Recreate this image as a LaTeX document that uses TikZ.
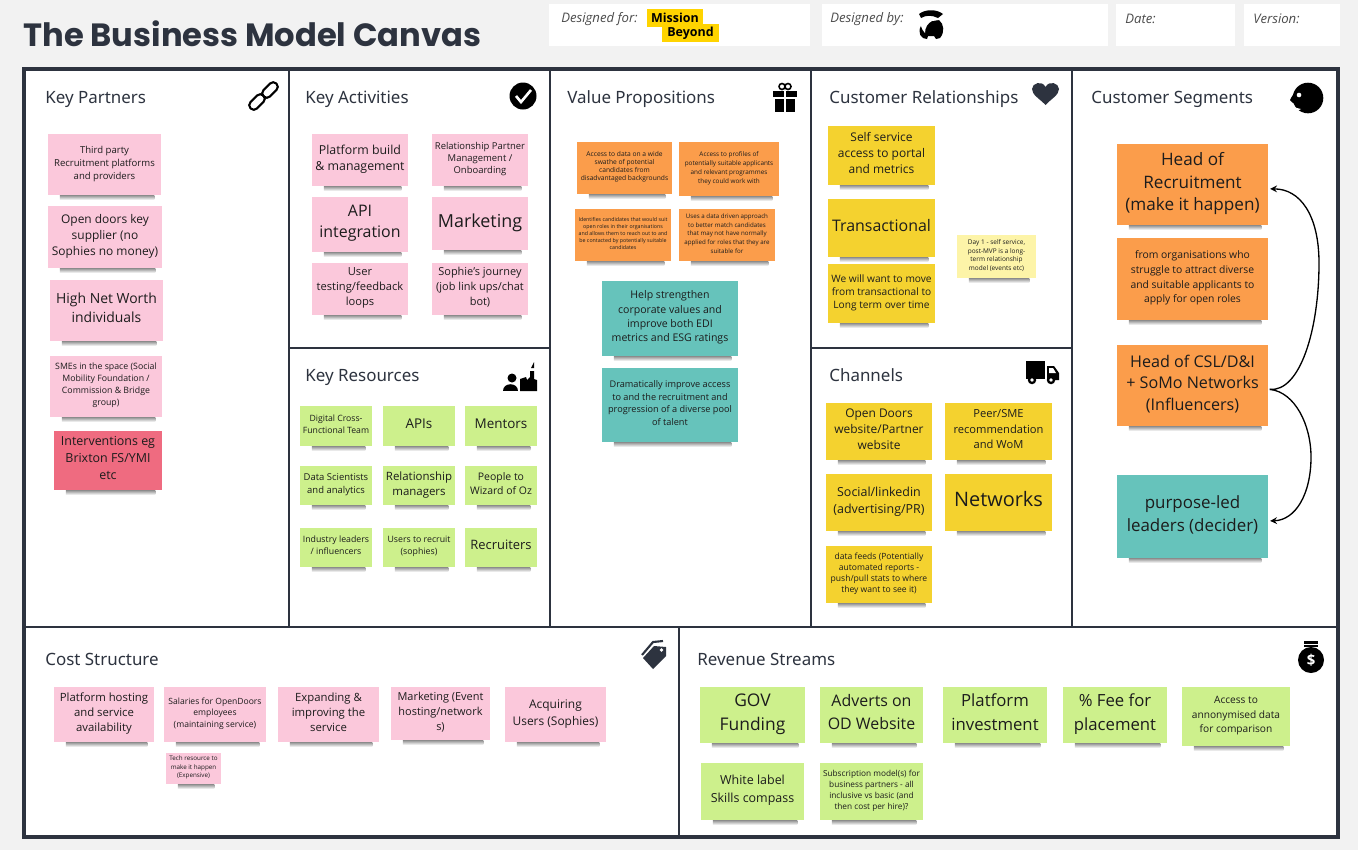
\documentclass[tikz,border=0pt]{standalone}
\usepackage{fontspec}
\setmainfont{Open Sans}
\newfontfamily\headfont{Noto Sans}
\newfontfamily\titlefont{Poppins}
\definecolor{ink}{HTML}{1C1C1C}
\definecolor{frame}{HTML}{2D333F}
\definecolor{page}{HTML}{F2F2F2}
\definecolor{pinknote}{HTML}{FBC8DB}
\definecolor{rednote}{HTML}{EF6B80}
\definecolor{greennote}{HTML}{CDF08C}
\definecolor{orangenote}{HTML}{FB9D4B}
\definecolor{tealnote}{HTML}{66C3BB}
\definecolor{yellownote}{HTML}{F4D22F}
\definecolor{palenote}{HTML}{FDF4A8}
\definecolor{brand}{HTML}{FFD400}
\newcommand{\pxfont}[2]{\pgfmathsetmacro\pxa{#1*0.5669}\pgfmathsetmacro\pxb{#2*0.5669}\fontsize{\pxa pt}{\pxb pt}\selectfont}
\tikzset{
	px/.style 2 args={font=\pxfont{#1}{#2}},
	wh/.style 2 args={minimum width=#1*0.02cm, minimum height=#2*0.02cm},
	note/.style={rectangle, inner sep=0pt, align=center, text=ink,
		execute at end node={\rule[\dimexpr-.25em-1pt\relax]{0pt}{0pt}},
		append after command={\pgfextra{\shade [top color=black!42, bottom color=white]
			([xshift=7pt]\tikzlastnode.south west) rectangle ([xshift=-4pt,yshift=-2.6pt]\tikzlastnode.south east);}}},
	pink/.style={note, fill=pinknote},
	red/.style={note, fill=rednote},
	green/.style={note, fill=greennote},
	orange/.style={note, fill=orangenote},
	teal/.style={note, fill=tealnote},
	yellow/.style={note, fill=yellownote},
	pale/.style={note, fill=palenote},
	heading/.style={anchor=base west, inner sep=0pt, text=frame, font={\headfont\pxfont{17}{20}}},
	meta/.style={anchor=west, inner sep=0pt, text=black!70, font={\itshape\pxfont{13.2}{15}}},
	brandbox/.style={inner sep=0pt, fill=brand, text=black, font={\bfseries\pxfont{12.5}{15}}},
	metabox/.style={fill=white, draw=none},
	divider/.style={draw=frame, line width=1.2pt},
	flow/.style={-stealth, black, line width=0.75pt},
}
\begin{document}
\begin{tikzpicture}[x=0.02cm, y=-0.02cm]
	\useasboundingbox [fill=page] (0,0) rectangle (1358,850);

	\node at (23,34) [anchor=west, inner sep=0pt, text=frame, font={\titlefont\bfseries\pxfont{32.3}{36}}] (title) {The Business Model Canvas};

	\fill [metabox] (549,4) rectangle (810,46);
	\fill [metabox] (822,4) rectangle (1108,46);
	\fill [metabox] (1116,4) rectangle (1235,46);
	\fill [metabox] (1244,4) rectangle (1340,46);
	\node at (561,19) [meta] (mfor) {Designed for:};
	\node at (830,19) [meta] (mby) {Designed by:};
	\node at (1125,19) [meta] (mdate) {Date:};
	\node at (1253,19) [meta] (mver) {Version:};
	\node at (675,18) [brandbox, wh={56}{18}] (mission) {Mission};
	\node at (690.5,33) [brandbox, wh={57}{18}] (beyond) {Beyond};

	\fill [black] (925,21) .. controls (918,27) and (918,35) .. (923,38) -- (927,39) -- (928,36) -- (934,36) -- (936,39) -- (940,38) .. controls (945,32) and (944,24) .. (939,20) -- cycle;
	\fill [black] (919,14) .. controls (925,9) and (937,9) .. (943,14) -- (938,18) .. controls (932,15) and (926,15) .. (921,18) -- cycle;
	\fill [white] (921,19) .. controls (927,16) and (934,16) .. (939,20) -- (932,21) .. controls (928,23) and (925,27) .. (925,33) .. controls (921,29) and (920,24) .. (921,19) -- cycle;

	\draw [fill=white, draw=frame, line width=2.3pt] (24,69) rectangle (1338,837);
	\draw [divider] (289,69) -- (289,627);
	\draw [divider] (550,69) -- (550,627);
	\draw [divider] (811,69) -- (811,627);
	\draw [divider] (1072,69) -- (1072,627);
	\draw [divider] (24,627) -- (1338,627);
	\draw [divider] (679,627) -- (679,837);
	\draw [divider] (289,348) -- (550,348);
	\draw [divider] (811,348) -- (1072,348);

	\node at (45,103) [heading] (hpartners) {Key Partners};
	\node at (305,103) [heading] (hactivities) {Key Activities};
	\node at (305,381) [heading] (hresources) {Key Resources};
	\node at (567,103) [heading] (hvalue) {Value Propositions};
	\node at (829,103) [heading] (hrelations) {Customer Relationships};
	\node at (829,381) [heading] (hchannels) {Channels};
	\node at (1091,103) [heading] (hsegments) {Customer Segments};
	\node at (45,665) [heading] (hcost) {Cost Structure};
	\node at (697,665) [heading] (hrevenue) {Revenue Streams};

	% Key Partners
	\node at (104.5,164.5) [pink, wh={113}{61}, px={9.6}{13}] (kp1) {Third party\\Recruitment platforms\\and providers};
	\node at (105,237) [pink, wh={114}{62}, px={12}{16}] (kp2) {Open doors key\\supplier (no\\Sophies no money)};
	\node at (106.5,310.5) [pink, wh={113}{61}, px={14}{19.5}] (kp3) {High Net Worth\\individuals};
	\node at (106,386.5) [pink, wh={112}{61}, px={8.8}{12}] (kp4) {SMEs in the space (Social\\Mobility Foundation /\\Commission \& Bridge\\group)};
	\node at (108,460.5) [red, wh={108}{59}, px={12.5}{17}] (kp5) {Interventions eg\\Brixton FS/YMI\\etc};

	% Key Activities
	\node at (360,160) [pink, wh={96}{52}, px={12.4}{16}] (ka1) {Platform build\\\& management};
	\node at (480,160) [pink, wh={96}{52}, px={9.5}{12.5}] (ka2) {Relationship Partner\\Management /\\Onboarding};
	\node at (360,224.5) [pink, wh={96}{55}, px={16}{21}] (ka3) {API\\integration};
	\node at (480,223.5) [pink, wh={96}{53}, px={18}{22}] (ka4) {Marketing};
	\node at (360,289) [pink, wh={96}{52}, px={11.2}{15}] (ka5) {User\\testing/feedback\\loops};
	\node at (480,289) [pink, wh={96}{52}, px={11}{15}] (ka6) {Sophie's journey\\(job link ups/chat\\bot)};

	% Key Resources
	\node at (336,426) [green, wh={72}{40}, px={8.7}{11.5}] (kr1) {Digital Cross-\\Functional Team};
	\node at (419,426) [green, wh={72}{40}, px={13.5}{16}] (kr2) {APIs};
	\node at (501,426) [green, wh={72}{40}, px={13.5}{16}] (kr3) {Mentors};
	\node at (336,485.5) [green, wh={72}{39}, px={9.5}{12.5}] (kr4) {Data Scientists\\and analytics};
	\node at (419,485.5) [green, wh={72}{39}, px={11.5}{15}] (kr5) {Relationship\\managers};
	\node at (501,485.5) [green, wh={72}{39}, px={10.5}{14}] (kr6) {People to\\Wizard of Oz};
	\node at (336,547.5) [green, wh={72}{39}, px={8.8}{12}] (kr7) {Industry leaders\\/ influencers};
	\node at (419,547.5) [green, wh={72}{39}, px={8.8}{12.5}] (kr8) {Users to recruit\\(sophies)};
	\node at (501,547.5) [green, wh={72}{39}, px={13}{16}] (kr9) {Recruiters};

	% Value Propositions
	\node at (624.5,168) [orange, wh={95}{52}, px={6.7}{8}] (vp1) {Access to data on a wide\\swathe of potential\\candidates from\\disadvantaged backgrounds};
	\node at (729,169) [orange, wh={100}{54}, px={6.4}{9}] (vp2) {Access to profiles of\\potentially suitable applicants\\and relevant programmes\\they could work with};
	\node at (623,235) [orange, wh={96}{52}, px={5.3}{7}] (vp3) {Identifies candidates that would suit\\open roles in their organisations\\and allows them to reach out to and\\be contacted by potentially suitable\\candidates};
	\node at (727,235) [orange, wh={96}{52}, px={6.2}{8.7}] (vp4) {Uses a data driven approach\\to better match candidates\\that may not have normally\\applied for roles that they are\\suitable for};
	\node at (670,318.5) [teal, wh={136}{75}, px={10.6}{14.5}] (vp5) {Help strengthen\\corporate values and\\improve both EDI\\metrics and ESG ratings};
	\node at (670,405) [teal, wh={136}{74}, px={9.2}{12.5}] (vp6) {Dramatically improve access\\to and the recruitment and\\progression of a diverse pool\\of talent};

	% Customer Relationships
	\node at (881.5,155.5) [yellow, wh={107}{59}, px={12}{16}] (cr1) {Self service\\access to portal\\and metrics};
	\node at (881.5,228) [yellow, wh={107}{58}, px={16}{20}] (cr2) {Transactional};
	\node at (881.5,293.5) [yellow, wh={107}{59}, px={10.2}{13}] (cr3) {We will want to move\\from transactional to\\Long term over time};
	\node at (996.5,256.5) [pale, wh={79}{43}, px={6.5}{8.6}] (cr4) {Day 1 - self service,\\post-MVP is a long-\\term relationship\\model (events etc)};

	% Channels
	\node at (879,431.5) [yellow, wh={106}{57}, px={12}{16}] (ch1) {Open Doors\\website/Partner\\website};
	\node at (998.5,431.5) [yellow, wh={107}{57}, px={11.2}{15.5}] (ch2) {Peer/SME\\recommendation\\and WoM};
	\node at (879,502.5) [yellow, wh={106}{57}, px={12.5}{17}] (ch3) {Social/linkedin\\(advertising/PR)};
	\node at (998.5,502.5) [yellow, wh={107}{57}, px={20}{24}] (ch4) {Networks};
	\node at (879,574.5) [yellow, wh={106}{57}, px={8.6}{11}] (ch5) {data feeds (Potentially\\automated reports -\\push/pull stats to where\\they want to see it)};

	% Customer Segments
	\node at (1192.5,184.5) [orange, wh={151}{81}, px={17.2}{23}] (cs1) {Head of\\Recruitment\\(make it happen)};
	\node at (1192.5,279) [orange, wh={151}{82}, px={10.4}{14.7}] (cs2) {from organisations who\\struggle to attract diverse\\and suitable applicants to\\apply for open roles};
	\node at (1192.5,385.5) [orange, wh={151}{81}, px={16.2}{21.5}] (cs3) {Head of CSL/D\&I\\+ SoMo Networks\\(Influencers)};
	\node at (1192.5,516.5) [teal, wh={151}{83}, px={17}{23}] (cs4) {purpose-led\\leaders (decider)};

	\draw [flow] ([xshift=0.8pt,yshift=-2.2pt]cs3.east) .. controls (1300,392) and (1319,330) .. (1319,263) .. controls (1319,215) and (1300,189) .. ([xshift=1pt,yshift=-2.5pt]cs1.east);
	\draw [flow] ([xshift=0.8pt,yshift=-2.2pt]cs3.east) .. controls (1295,392) and (1311,425) .. (1311,457) .. controls (1311,495) and (1295,520) .. ([xshift=1pt,yshift=-2.5pt]cs4.east);

	% Cost Structure
	\node at (104,714.5) [pink, wh={100}{55}, px={11.4}{15}] (co1) {Platform hosting\\and service\\availability};
	\node at (215,714.5) [pink, wh={102}{55}, px={8.6}{11.5}] (co2) {Salaries for OpenDoors\\employees\\(maintaining service)};
	\node at (328.5,714.5) [pink, wh={101}{55}, px={11.4}{15}] (co3) {Expanding \&\\improving the\\service};
	\node at (440.5,713.5) [pink, wh={99}{53}, px={11}{15}] (co4) {Marketing (Event\\hosting/network\\s)};
	\node at (555.5,714.5) [pink, wh={101}{55}, px={12}{17}] (co5) {Acquiring\\Users (Sophies)};
	\node at (193.5,768.5) [pink, wh={55}{31}, px={6.3}{8.5}] (co6) {Tech resource to\\make it happen\\(Expensive)};

	% Revenue Streams
	\node at (752.5,715) [green, wh={105}{56}, px={17.5}{24}] (rs1) {GOV\\Funding};
	\node at (871.5,715) [green, wh={103}{56}, px={16}{23.5}] (rs2) {Adverts on\\OD Website};
	\node at (995,715) [green, wh={104}{56}, px={16.8}{23.5}] (rs3) {Platform\\investment};
	\node at (1115,715) [green, wh={104}{56}, px={16.8}{23.5}] (rs4) {\% Fee for\\placement};
	\node at (1236,716.5) [green, wh={108}{59}, px={10.2}{15}] (rs5) {Access to\\annonymised data\\for comparison};
	\node at (752.5,791.5) [green, wh={103}{57}, px={12.5}{18}] (rs6) {White label\\Skills compass};
	\node at (871.5,791.5) [green, wh={103}{57}, px={8.3}{11}] (rs7) {Subscription model(s) for\\business partners - all\\inclusive vs basic (and\\then cost per hire)?};

	% icons
	\draw [black, line width=1.2pt, rounded corners=2.4pt, rotate around={45:(257,102)}] (248,97.5) rectangle (266,106.5);
	\draw [black, line width=1.2pt, rounded corners=2.4pt, rotate around={45:(270,90)}] (261,85.5) rectangle (279,94.5);

	\fill [black] (523,96) circle (13.5);
	\draw [white, line width=1.5pt] (516,96) -- (521,102) -- (531,90);

	\draw [black, line width=0.9pt] (782,86.5) circle (3);
	\draw [black, line width=0.9pt] (788,86.5) circle (3);
	\fill [black] (773,91) rectangle (784,97);
	\fill [black] (786,91) rectangle (797,97);
	\fill [black] (775,99) rectangle (784,112);
	\fill [black] (786,99) rectangle (795,112);

	\fill [frame] (1045.5,105) .. controls (1040,99) and (1032,95) .. (1032,89) .. controls (1032,83) and (1042,80) .. (1045.5,87) .. controls (1049,80) and (1059,83) .. (1059,89) .. controls (1059,95) and (1051,99) .. (1045.5,105) -- cycle;

	\fill [black] (1308,98) circle (15.3);
	\fill [black] (1297,88) .. controls (1295,93) and (1291,97) .. (1290,100) .. controls (1292,103) and (1295,104) .. (1297,105) -- cycle;
	\fill [white] (1299,95) circle (2.3);
	\fill [white] (1293,107) -- (1301,109) -- (1297,111) -- (1293,111) -- cycle;

	\fill [black] (512,378) circle (4.5);
	\fill [black] (503,391) .. controls (503,382) and (518,382) .. (518,391) -- cycle;
	\fill [black] (520,379) -- (526,377) -- (527,380) -- (530,377) -- (530,371) -- (534,371) -- (534,379) -- (537,380) -- (537,391) -- (520,391) -- cycle;
	\fill [black] (531,368) -- (534,362) -- (534,368) -- cycle;

	\fill [black] (1026,361) rectangle (1045,379);
	\fill [black] (1047,366) -- (1054,366) -- (1059,373) -- (1059,380) -- (1047,380) -- cycle;
	\fill [white] (1049,368) -- (1053,368) -- (1056,373) -- (1049,373) -- cycle;
	\draw [black, fill=white, line width=1.3pt] (1032,380) circle (3);
	\draw [black, fill=white, line width=1.3pt] (1051,380) circle (3);

	\fill [frame] (654,646) -- (666,647) -- (666,656) -- (653,669) -- (643,658) -- cycle;
	\fill [white] (661.5,650) circle (1.8);
	\draw [frame, line width=1.2pt] (642,655) -- (653,642) -- (663,641);

	\fill [black] (1304,641) rectangle (1318,643.5);
	\fill [black] (1304,645) rectangle (1318,647);
	\fill [black] (1311,660) circle (13);
	\node at (1311,660) [inner sep=0pt, text=white, font={\bfseries\pxfont{15}{17}}] (dollar) {\$};
\end{tikzpicture}
\end{document}
